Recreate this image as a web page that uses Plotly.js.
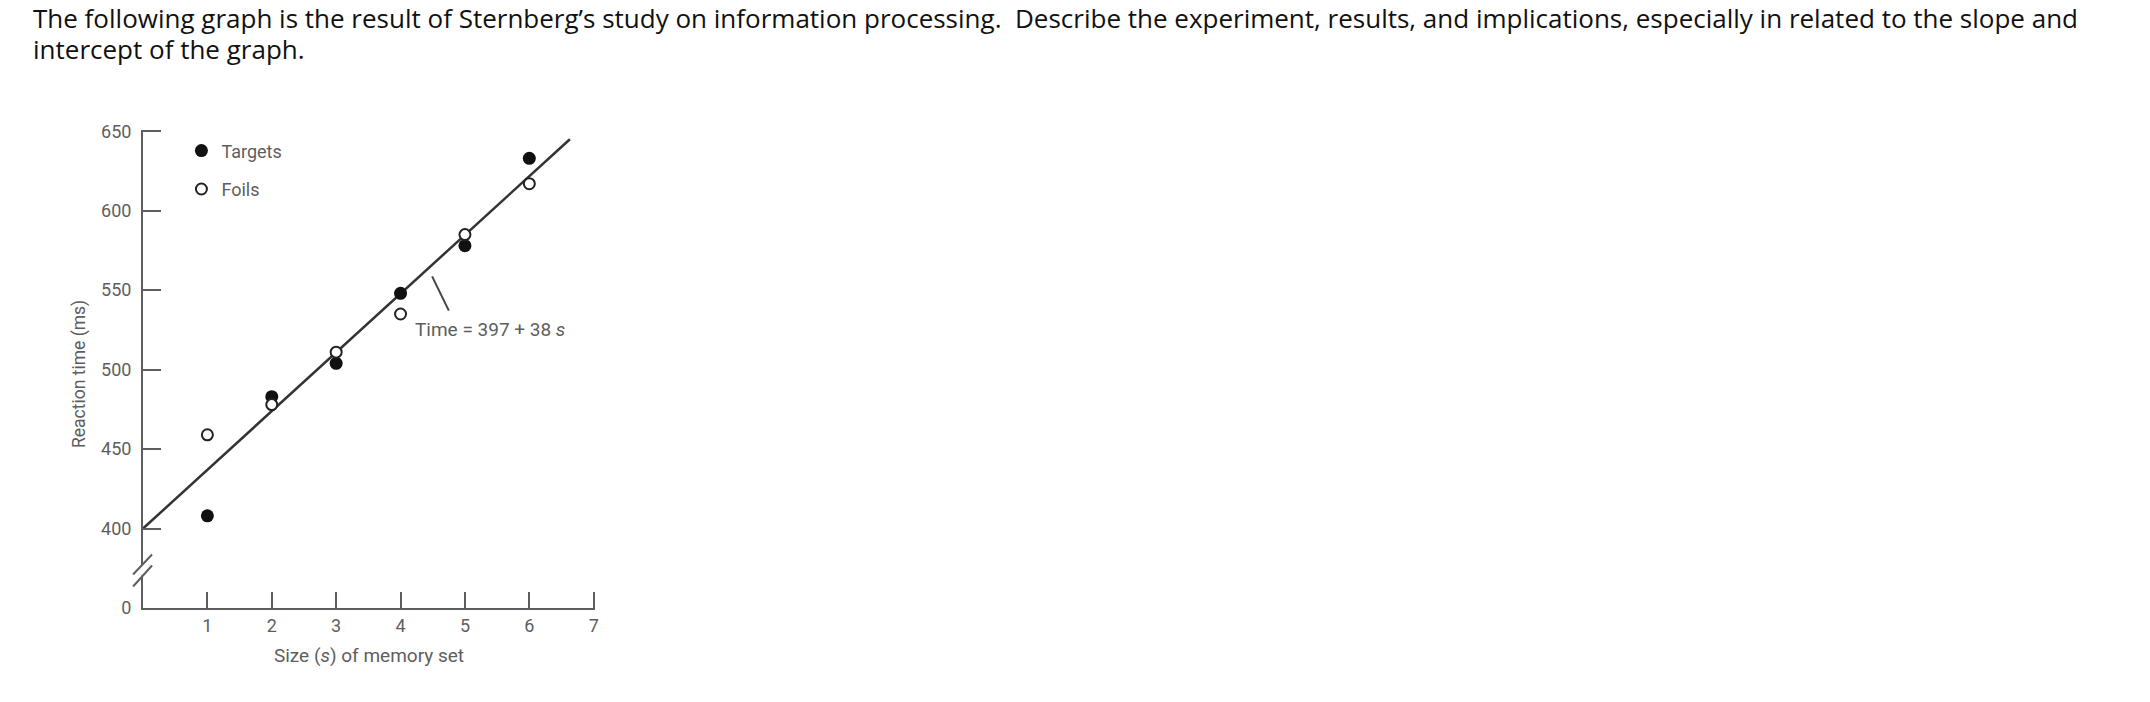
<!DOCTYPE html>
<html>
<head>
<meta charset="utf-8">
<script src="https://cdn.plot.ly/plotly-3.0.1.min.js"></script>
<style>
    html, body { margin: 0; padding: 0; background: #fff; }
    #question {
        position: absolute; left: 33px; top: 3px;
        font-family: "Open Sans", sans-serif; font-size: 26px; line-height: 31px;
        color: #111; white-space: nowrap;
    }
    #chart { position: absolute; left: 0; top: 0; width: 2150px; height: 702px; }
</style>
</head>
<body>
<div id="chart"></div>
<div id="question">The following graph is the result of Sternberg’s study on information processing.&nbsp; Describe the experiment, results, and implications, especially in related to the slope and<br>intercept of the graph.</div>
<script>
// Sternberg memory scan: reaction time vs size of memory set
const SET_SIZES = [1, 2, 3, 4, 5, 6];
const TARGET_RT = [408, 483, 504, 548, 578, 633];
const FOIL_RT = [459, 478, 511, 535, 585, 617];

// fitted line as drawn in the figure
const FIT_X = [0, 6.63];
const FIT_Y = [400, 645];
const FIT_LABEL = "Time = 397 + 38 <i>s</i>";

// y axis is broken: the bottom value stands for 0
const Y_TICKS = [350, 400, 450, 500, 550, 600, 650];
const Y_TICK_TEXT = ["0", "400", "450", "500", "550", "600", "650"];
const X_TICKS = [1, 2, 3, 4, 5, 6, 7];

const FONT = "'Liberation Sans Narrow', 'Arial Narrow', Roboto, sans-serif";
const GREY = "#5e5e5e";
const INK = "#222";

const traces = [
    {
        x: FIT_X, y: FIT_Y, type: "scatter", mode: "lines",
        line: { color: "#333", width: 2.5 },
        showlegend: false, hoverinfo: "skip",
    },
    {
        x: SET_SIZES, y: TARGET_RT, type: "scatter", mode: "markers",
        name: "Targets", legendgroup: "t",
        marker: { size: 13, color: "#111", line: { width: 0 } },
    },
    {
        x: SET_SIZES, y: FOIL_RT, type: "scatter", mode: "markers",
        name: "Foils", legendgroup: "f",
        marker: { size: 11, color: "#fff", line: { width: 2, color: INK } },
    },
];

// axis break marks, in paper units of the plot area
const shapes = [
    { type: "rect", xref: "paper", yref: "paper", x0: -0.007, x1: 0.007, y0: 0.068, y1: 0.09,
      fillcolor: "#fff", line: { width: 0 }, layer: "above" },
    { type: "line", xref: "paper", yref: "paper", x0: -0.022, y0: 0.070, x1: 0.02, y1: 0.112,
      line: { color: GREY, width: 2 }, layer: "above" },
    { type: "line", xref: "paper", yref: "paper", x0: -0.022, y0: 0.045, x1: 0.02, y1: 0.089,
      line: { color: GREY, width: 2 }, layer: "above" },
    // leader from the label to the fitted line
    { type: "line", xref: "x", yref: "y", x0: 4.49, y0: 558.7, x1: 4.75, y1: 537.1,
      line: { color: "#444", width: 2 } },
];

const layout = {
    width: 2150, height: 702,
    paper_bgcolor: "#fff", plot_bgcolor: "#fff",
    margin: { l: 143, r: 1555, t: 130, b: 94 },
    font: { family: FONT, size: 18, color: GREY },
    showlegend: true,
    legend: {
        x: 0.085, y: 0.995, xanchor: "left", yanchor: "top",
        bgcolor: "rgba(0,0,0,0)", borderwidth: 0,
        font: { family: FONT, size: 18, color: GREY },
        traceorder: "grouped", tracegroupgap: 12,
    },
    xaxis: {
        range: [0, 7.02], tickvals: X_TICKS,
        showgrid: false, zeroline: false,
        showline: true, linecolor: GREY, linewidth: 2,
        ticks: "inside", ticklen: 16, tickwidth: 2, tickcolor: GREY,
        tickfont: { family: FONT, size: 18, color: GREY },
        title: { text: "Size (<i>s</i>) of memory set", standoff: 14,
                 font: { family: FONT, size: 19, color: GREY } },
    },
    yaxis: {
        range: [350, 650.8], tickvals: Y_TICKS, ticktext: Y_TICK_TEXT,
        showgrid: false, zeroline: false,
        showline: true, linecolor: GREY, linewidth: 2,
        ticks: "inside", ticklen: 18, tickwidth: 2, tickcolor: GREY,
        ticklabelstandoff: 6,
        tickfont: { family: FONT, size: 18, color: GREY },
    },
    shapes: shapes,
    annotations: [
        {
            x: 4.19, y: 525, xref: "x", yref: "y", xanchor: "left", yanchor: "middle",
            text: FIT_LABEL, showarrow: false,
            font: { family: FONT, size: 19, color: GREY },
        },
        {
            x: -0.14, y: 0.489, xref: "paper", yref: "paper", textangle: -90,
            xanchor: "center", yanchor: "middle",
            text: "Reaction time (ms)", showarrow: false,
            font: { family: FONT, size: 17.5, color: GREY },
        },
    ],
};

Plotly.newPlot("chart", traces, layout, { displayModeBar: false, staticPlot: true });
</script>
</body>
</html>
